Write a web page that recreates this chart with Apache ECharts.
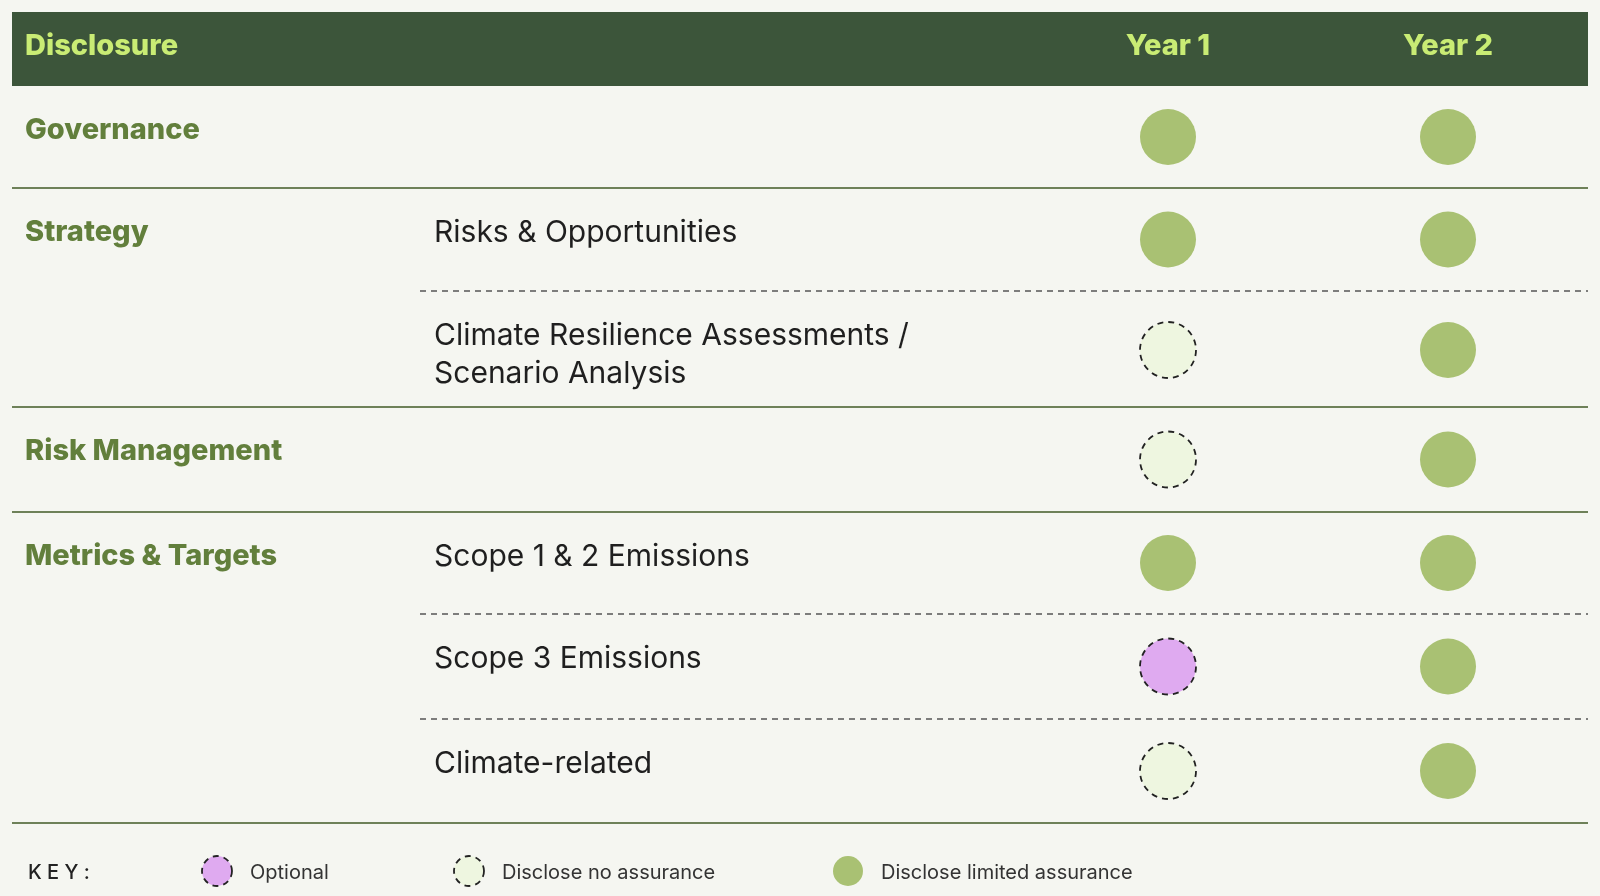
<!DOCTYPE html>
<html><head><meta charset="utf-8">
<script src="https://cdn.jsdelivr.net/npm/echarts@6/dist/echarts.min.js"></script>
<style>html,body{margin:0;padding:0;background:#f5f6f1}#c{width:1600px;height:896px}</style>
</head><body><div id="c"></div>
<script>
const columns = ['Year 1', 'Year 2'];
const sections = ['Governance', 'Strategy', '', 'Risk Management', 'Metrics & Targets', '', ''];
const items = ['', 'Risks & Opportunities', 'Climate Resilience Assessments /\nScenario Analysis', '', 'Scope 1 & 2 Emissions', 'Scope 3 Emissions', 'Climate-related'];
const year1 = ['limited', 'limited', 'none', 'none', 'limited', 'optional', 'none'];
const year2 = ['limited', 'limited', 'limited', 'limited', 'limited', 'limited', 'limited'];
const keyLabels = { optional: 'Optional', none: 'Disclose no assurance', limited: 'Disclose limited assurance' };

// layout
const rowBounds = [86, 188, 291, 407, 512, 614, 719, 823];
const colX = [1168, 1448];
const styles = {
  limited: { color: '#a9c173', borderWidth: 0, opacity: 1 },
  none: { color: '#eef6e0', borderColor: '#222', borderWidth: 1.8, borderType: [6, 5], opacity: 1 },
  optional: { color: '#dfaaf0', borderColor: '#222', borderWidth: 1.8, borderType: [6, 5], opacity: 1 }
};
const heading = '#627f3c';
const font = 'Inter, "Noto Sans", sans-serif';

const pts = [];
[year1, year2].forEach((arr, j) => arr.forEach((s, i) => {
  const cy = i === 2 ? 350 : (rowBounds[i] + rowBounds[i + 1]) / 2;
  pts.push({ value: [colX[j], cy], itemStyle: styles[s] });
}));
const keyX = [217, 469, 848];
const keyPts = ['optional', 'none', 'limited'].map((s, k) => ({ value: [keyX[k], 871], itemStyle: styles[s] }));

const g = [];
g.push({ type: 'rect', shape: { x: 12, y: 12, width: 1576, height: 74 }, style: { fill: '#3c553a' } });
g.push({ type: 'text', x: 25, y: 46, style: { text: 'Disclosure', font: '800 29px ' + font, fill: '#c9ec74', verticalAlign: 'middle' } });
columns.forEach((c, j) => g.push({ type: 'text', x: colX[j], y: 46, style: { text: c, font: '800 29px ' + font, fill: '#c9ec74', align: 'center', verticalAlign: 'middle' } }));
sections.forEach((s, i) => { if (s) g.push({ type: 'text', x: 25, y: rowBounds[i] + 44, style: { text: s, font: '800 29px ' + font, fill: heading, verticalAlign: 'middle' } }); });
items.forEach((s, i) => { if (s) g.push({ type: 'text', x: 434, y: rowBounds[i] + 26, style: { text: s, font: '30px ' + font, fill: '#1f1f1f', lineHeight: 38 } }); });
rowBounds.slice(1).forEach((y, i) => {
  const next = sections[i + 1];
  const solid = i === rowBounds.length - 2 || next !== '';
  g.push({ type: 'line', shape: { x1: solid ? 12 : 420, y1: y, x2: 1588, y2: y }, style: { stroke: solid ? '#6e8159' : '#555', lineWidth: solid ? 2 : 1.5, lineDash: solid ? null : [6, 5] } });
});
g.push({ type: 'text', x: 28, y: 873, style: { text: 'K E Y :', font: '500 20px ' + font, fill: '#222', verticalAlign: 'middle' } });
['optional', 'none', 'limited'].forEach((s, k) => g.push({ type: 'text', x: keyX[k] + 33, y: 873, style: { text: keyLabels[s], font: '20px ' + font, fill: '#333', verticalAlign: 'middle' } }));

const chart = echarts.init(document.getElementById('c'));
chart.setOption({
  backgroundColor: '#f5f6f1',
  animation: false,
  grid: { left: 0, right: 0, top: 0, bottom: 0 },
  xAxis: { type: 'value', min: 0, max: 1600, show: false },
  yAxis: { type: 'value', min: 0, max: 896, inverse: true, show: false },
  graphic: g,
  series: [
    { type: 'scatter', symbolSize: 56, data: pts, z: 5, emphasis: { disabled: true } },
    { type: 'scatter', symbolSize: 30, data: keyPts, z: 5, emphasis: { disabled: true } }
  ]
});
</script></body></html>
